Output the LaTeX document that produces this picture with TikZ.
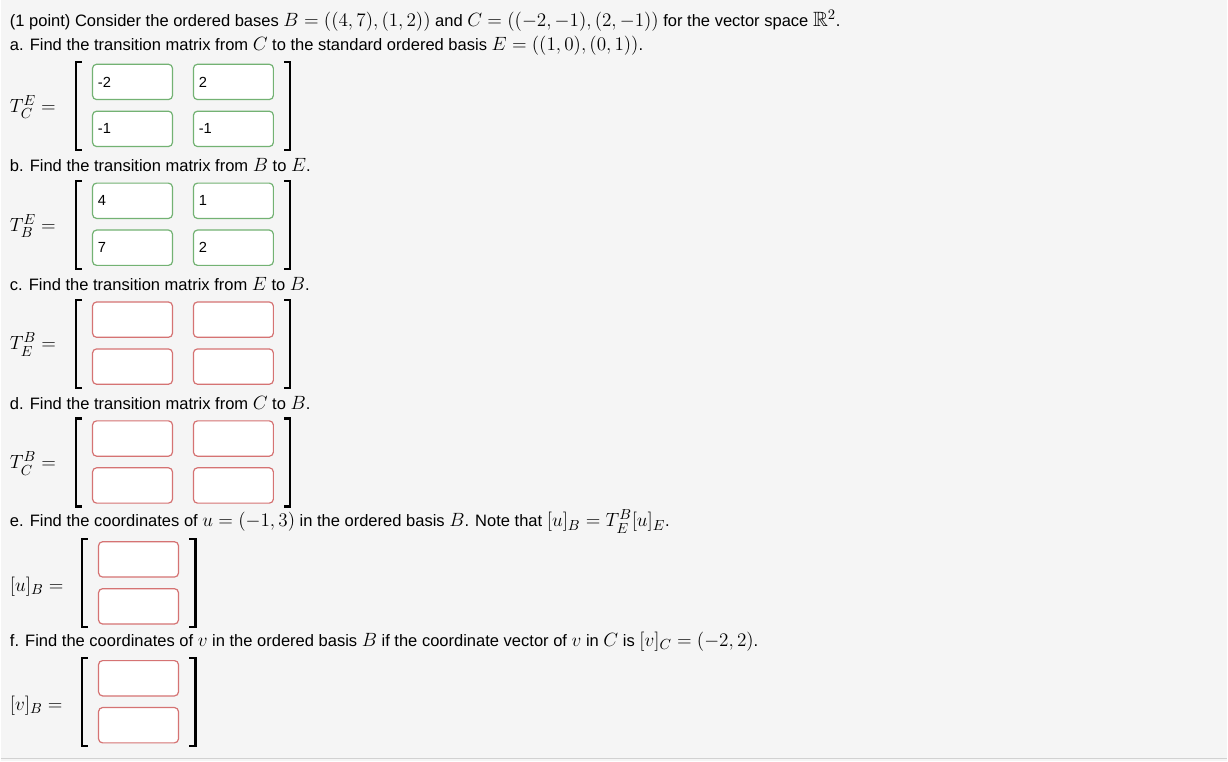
\documentclass[tikz,border=0pt]{standalone}
\usepackage{fontspec}
\setmainfont{Liberation Sans}
\usepackage{amssymb}
\newcommand{\M}[1]{{\fontsize{15.5}{17}\selectfont$#1$}}
\begin{document}
\begin{tikzpicture}[x=0.75pt,y=-0.75pt,
  txt/.style={anchor=west,inner sep=0pt,font=\fontsize{12.4}{14}\selectfont},
  ok/.style={draw=green!45!black!55,line width=0.9pt,fill=white,rounded corners=3pt,minimum width=60pt,minimum height=26.5pt,inner sep=0pt,text width=52pt,align=left,font=\fontsize{11}{13}\selectfont},
  bad/.style={ok,draw=red!70!black!55},
  brk/.style={line width=1.6pt}]
\fill[black!4] (0,0) rectangle (1228,762);
\draw[black!18,line width=1pt] (0,759) -- (1228,759);
\node[txt] (t1) at (9,21) {(1 point) Consider the ordered bases \M{B=((4,7),(1,2))} and \M{C=((-2,-1),(2,-1))} for the vector space \M{\mathbb{R}^2}.};
\node[txt] (t2) at (9,46) {a. Find the transition matrix from \M{C} to the standard ordered basis \M{E=((1,0),(0,1))}.};
\newcommand{\mymat}[7]{% y, style, a,b,c,d, label
  \node[txt] (L#1) at (9,#1+43) {\M{#7 =}};
  \node[#2] (a#1) at (132,#1+18) {#3};
  \node[#2] (b#1) at (233,#1+18) {#4};
  \node[#2] (c#1) at (132,#1+65) {#5};
  \node[#2] (d#1) at (233,#1+65) {#6};
  \draw[brk] (81,#1-2) -- (75,#1-2) -- (75,#1+86) -- (81,#1+86);
  \draw[brk] (284,#1-2) -- (290,#1-2) -- (290,#1+86) -- (284,#1+86);
}
\mymat{64}{ok}{-2}{2}{-1}{-1}{T_C^E}
\node[txt] (t3) at (9,165) {b. Find the transition matrix from \M{B} to \M{E}.};
\mymat{183}{ok}{4}{1}{7}{2}{T_B^E}
\node[txt] (t4) at (9,284) {c. Find the transition matrix from \M{E} to \M{B}.};
\mymat{302}{bad}{}{}{}{}{T_E^B}
\node[txt] (t5) at (9,403) {d. Find the transition matrix from \M{C} to \M{B}.};
\mymat{421}{bad}{}{}{}{}{T_C^B}
\node[txt] (t6) at (9,522) {e. Find the coordinates of \M{u=(-1,3)} in the ordered basis \M{B}. Note that \M{[u]_B=T_E^B[u]_E}.};
\newcommand{\myvec}[2]{%
  \node[txt] (V#1) at (9,#1+45) {\M{#2 =}};
  \node[bad] (p#1) at (138,#1+18) {};
  \node[bad] (q#1) at (138,#1+65) {};
  \draw[brk] (87,#1-2) -- (81,#1-2) -- (81,#1+86) -- (87,#1+86);
  \draw[brk] (189,#1-2) -- (195,#1-2) -- (195,#1+86) -- (189,#1+86);
}
\myvec{542}{[u]_B}
\node[txt] (t7) at (9,642) {f. Find the coordinates of \M{v} in the ordered basis \M{B} if the coordinate vector of \M{v} in \M{C} is \M{[v]_C=(-2,2)}.};
\myvec{661}{[v]_B}
\end{tikzpicture}
\end{document}
